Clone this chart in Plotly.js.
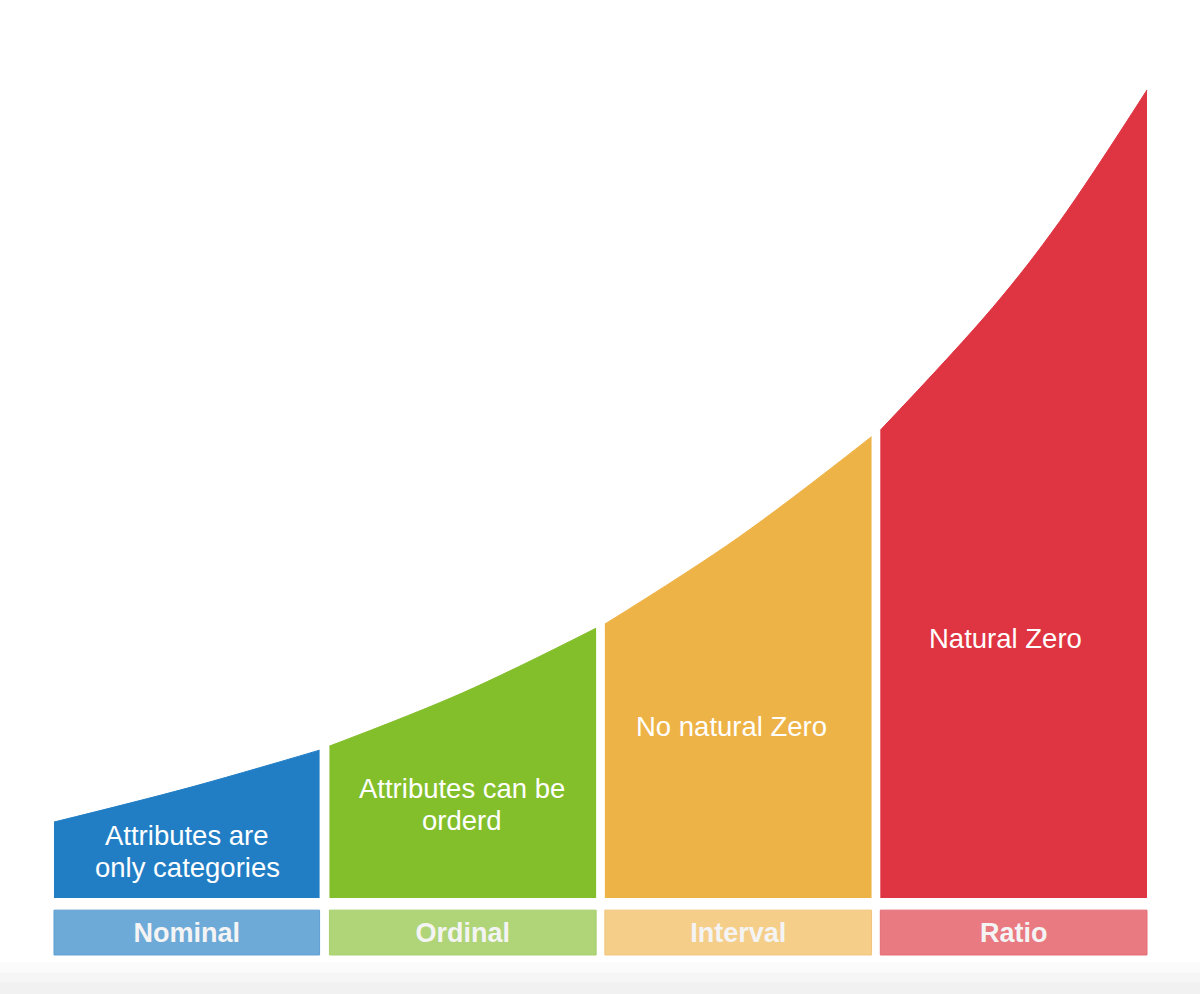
<!DOCTYPE html>
<html>
<head>
<meta charset="utf-8">
<script src="https://cdn.plot.ly/plotly-3.0.1.min.js"></script>
<style>
  html, body { margin: 0; padding: 0; background: #ffffff; }
  #chart { width: 1200px; height: 994px; }
</style>
</head>
<body>
<div id="chart"></div>
<script>
// ======== DATA ========
// levels of measurement, read off the picture (x: 0..100 across, y: 0..100 up)
var levels = ['Nominal', 'Ordinal', 'Interval', 'Ratio'];
var notes = [['Attributes are', 'only categories'], ['Attributes can be', 'orderd'], ['No natural Zero'], ['Natural Zero']];

var nominalX = [0, 12.2, 24.3];
var nominalY = [9.4, 13.6, 18.3];
var ordinalX = [25.2, 37.4, 49.6];
var ordinalY = [18.8, 25.4, 33.4];
var intervalX = [50.4, 62.6, 74.8];
var intervalY = [33.9, 44.6, 57.1];
var ratioX = [75.6, 85.9, 92.0, 100];
var ratioY = [57.9, 73.1, 83.7, 100];

// ======== STYLE ========
var darkColors = ['#217ec5', '#83bf2b', '#eeb347', '#df3441'];
var lightColors = ['#6eaad8', '#b0d578', '#f5ce8a', '#e97a81'];
var edgeColors = ['#5f9fd3', '#a6cf6a', '#f1c47a', '#e36c74'];
var notePos = [[12.2, 5.7], [37.3, 11.6], [62.0, 21.2], [87.1, 32.1]];
var lineStep = 3.96; // 32px between text lines

var segX = [nominalX, ordinalX, intervalX, ratioX];
var segY = [nominalY, ordinalY, intervalY, ratioY];

var plotData = [];

segX.forEach(function(xs, i) {
  plotData.push({
    x: xs,
    y: segY[i],
    type: 'scatter',
    mode: 'lines',
    fill: 'tozeroy',
    fillcolor: darkColors[i],
    line: {color: darkColors[i], width: 1, shape: 'spline', smoothing: 1},
    hoverinfo: 'skip',
    showlegend: false
  });
});

// label boxes under the areas
var boxCenters = segX.map(function(xs) { return (xs[0] + xs[xs.length - 1]) / 2; });
var boxWidths = segX.map(function(xs) { return xs[xs.length - 1] - xs[0]; });

plotData.push({
  x: boxCenters,
  y: levels.map(function() { return 5.55; }),
  base: -7.05,
  width: boxWidths,
  type: 'bar',
  text: levels.map(function(l) { return '<b>' + l + '</b>'; }),
  textposition: 'inside',
  insidetextanchor: 'middle',
  constraintext: 'none',
  textfont: {family: 'Liberation Sans, Arial, sans-serif', size: 27, color: '#f4f4f4'},
  marker: {color: lightColors, line: {color: edgeColors, width: 1}},
  hoverinfo: 'skip',
  showlegend: false
});

var annotations = [];
notes.forEach(function(lines, i) {
  var top = notePos[i][1] + (lines.length - 1) * lineStep / 2;
  lines.forEach(function(t, k) {
    annotations.push({
      x: notePos[i][0],
      y: top - k * lineStep,
      xref: 'x',
      yref: 'y',
      text: t,
      showarrow: false,
      font: {family: 'Liberation Sans, Arial, sans-serif', size: 27.5, color: '#ffffff'}
    });
  });
});

var layout = {
  width: 1200,
  height: 994,
  margin: {l: 0, r: 0, t: 0, b: 0, pad: 0},
  paper_bgcolor: '#ffffff',
  plot_bgcolor: 'rgba(0,0,0,0)',
  showlegend: false,
  hovermode: false,
  xaxis: {range: [-4.94, 104.85], visible: false, fixedrange: true},
  yaxis: {range: [-11.88, 111.14], visible: false, fixedrange: true},
  annotations: annotations,
  shapes: [
    {type: 'rect', xref: 'paper', yref: 'paper', x0: 0, x1: 1, y0: 0, y1: 0.012,
     fillcolor: '#f1f1f1', line: {width: 0}, layer: 'below'},
    {type: 'rect', xref: 'paper', yref: 'paper', x0: 0, x1: 1, y0: 0.012, y1: 0.022,
     fillcolor: '#f6f6f6', line: {width: 0}, layer: 'below'},
    {type: 'rect', xref: 'paper', yref: 'paper', x0: 0, x1: 1, y0: 0.022, y1: 0.032,
     fillcolor: '#fbfbfb', line: {width: 0}, layer: 'below'}
  ]
};

Plotly.newPlot('chart', plotData, layout, {displayModeBar: false, staticPlot: true});
</script>
</body>
</html>
